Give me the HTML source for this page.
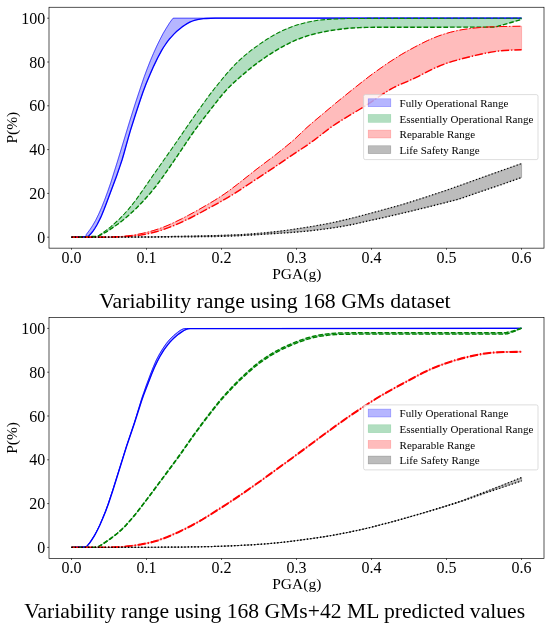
<!DOCTYPE html>
<html><head><meta charset="utf-8"><title>Variability range</title>
<style>
html,body{margin:0;padding:0;background:#fff;width:550px;height:630px;overflow:hidden}
svg{display:block}
text{font-family:'Liberation Serif', 'Times New Roman', serif;fill:#000}
.tk{font-size:16px}
.lb{font-size:15.5px}
.lg{font-size:11px;fill:#000}
.cap{font-size:21.4px}
</style></head><body>
<svg width="550" height="630" viewBox="0 0 550 630">
<rect width="550" height="630" fill="#fff"/>
<path d="M71.5 237.2L85.5 237.2L85.9 236.5L86.3 234.5L89.9 229.7L92.6 225.6L95.6 220.4L98.7 214.1L101.5 207.7L104.5 200.2L107.6 191.8L110.9 182.3L117.2 162.3L129.7 121.2L135.4 103.1L141.4 85.0L144.3 76.5L147.1 69.0L150.4 60.6L153.5 53.3L156.8 46.0L159.9 39.7L163.1 33.5L166.2 28.3L169.9 22.4L172.9 18.4L173.8 18.2L521.6 18.2L215.3 18.2L206.3 18.5L203.3 18.7L200.3 19.1L197.4 19.6L194.4 20.4L192.6 21.0L189.8 22.2L187.1 23.6L184.6 25.2L182.1 26.9L179.0 29.4L176.8 31.3L173.9 34.1L171.2 37.1L169.2 39.3L167.4 41.7L165.1 45.0L163.4 47.5L161.4 50.9L157.6 58.0L153.7 66.1L150.1 74.3L146.2 83.6L143.0 92.0L140.1 100.5L135.4 114.7L130.3 130.9L127.8 139.6L123.8 154.0L122.1 159.8L119.9 166.4L116.6 175.9L106.5 203.1L104.0 209.6L102.1 214.2L100.5 217.9L98.7 221.5L96.9 225.0L94.8 228.5L93.2 230.9L91.9 232.5L90.6 234.0L89.2 235.5L88.4 236.1L87.5 236.3L71.5 237.2Z" fill="rgba(0,0,255,0.287)" stroke="rgba(0,0,255,0.35)" stroke-width="0.84"/>
<path d="M71.5 237.2L92.5 237.2L94.5 237.1L96.5 236.7L98.3 235.9L100.0 234.8L104.0 231.9L107.3 229.5L110.4 227.1L113.4 224.5L119.3 219.1L124.2 214.0L128.2 209.6L132.0 205.0L136.3 199.4L140.9 192.9L156.3 170.7L173.0 147.0L190.6 121.5L203.3 103.5L209.2 95.4L214.7 88.3L221.0 80.5L226.7 73.6L232.8 66.9L238.4 61.2L244.3 55.9L247.4 53.3L251.3 50.2L258.6 44.9L266.9 39.3L274.6 34.7L278.2 32.8L281.7 31.0L287.2 28.6L292.8 26.4L298.5 24.5L305.3 22.7L311.1 21.5L318.0 20.3L325.0 19.6L332.0 19.1L345.0 18.6L365.0 18.4L521.7 18.3L521.5 19.5L498.1 26.2L495.2 26.9L493.2 27.1L373.2 27.3L364.2 27.4L357.2 27.7L350.2 28.2L344.3 28.7L336.3 29.7L328.4 31.0L320.6 32.5L313.8 34.1L307.0 36.0L301.3 37.9L295.8 40.1L290.3 42.6L283.2 46.3L274.6 51.3L266.2 56.7L258.8 61.9L254.8 64.9L250.1 68.6L240.1 77.0L232.7 83.6L227.0 89.3L223.0 93.8L218.6 99.2L202.6 119.7L197.8 126.1L191.4 135.0L177.4 155.8L166.7 171.4L160.9 179.6L156.1 186.0L149.8 193.7L143.1 201.2L139.7 204.8L136.1 208.4L129.6 214.5L125.8 217.8L121.9 221.0L118.0 224.0L113.9 226.9L109.8 229.7L106.4 231.8L102.9 233.8L98.4 236.1L97.5 236.4L96.5 236.4L71.5 237.2Z" fill="rgba(43,165,83,0.37)" stroke="rgba(43,165,83,0.3)" stroke-width="0.84"/>
<path d="M71.5 237.2L99.5 237.2L111.5 237.0L117.5 236.7L122.5 236.4L127.5 235.9L132.4 235.3L137.3 234.4L143.2 233.2L149.1 231.8L153.9 230.4L158.6 228.9L163.3 227.2L168.9 224.9L174.3 222.4L181.5 218.9L188.6 215.2L197.4 210.4L207.8 204.4L214.7 200.3L219.7 197.1L224.7 193.8L229.6 190.3L237.6 184.2L258.0 168.1L274.7 155.5L286.4 146.1L291.0 142.3L294.8 139.0L305.7 128.6L311.7 123.3L335.4 103.4L353.3 88.9L361.9 82.1L368.2 77.2L373.8 73.0L386.1 64.3L391.1 61.0L396.1 57.8L401.2 54.6L406.4 51.6L414.3 47.3L421.4 43.6L427.7 40.5L433.2 38.1L438.8 35.9L444.4 34.0L450.2 32.3L456.0 30.9L461.9 29.7L468.8 28.7L475.8 27.9L482.8 27.3L489.8 26.9L497.7 26.6L521.6 26.2L521.6 49.8L511.0 50.1L504.0 50.5L497.0 51.2L491.1 52.1L484.2 53.4L475.4 55.4L462.8 58.5L453.2 61.2L448.4 62.7L444.6 64.0L440.9 65.4L437.2 67.0L430.9 69.9L418.4 76.3L413.0 78.9L408.4 81.0L398.3 85.3L393.8 87.5L390.3 89.4L386.0 92.0L371.1 102.1L365.3 105.9L360.2 109.0L344.7 118.3L336.3 123.6L332.1 126.4L328.1 129.4L313.8 140.4L306.5 145.6L289.0 157.2L269.2 170.7L251.6 182.2L234.9 193.2L225.5 198.9L213.3 205.8L195.7 215.3L189.4 218.4L184.0 221.1L177.7 223.9L172.1 226.3L166.5 228.4L160.9 230.4L155.1 232.1L150.2 233.3L145.3 234.3L140.4 235.1L135.5 235.7L129.5 236.3L123.5 236.7L116.5 237.0L102.5 237.2L71.5 237.2Z" fill="rgba(255,0,0,0.263)" stroke="rgba(255,0,0,0.25)" stroke-width="0.84"/>
<path d="M71.5 237.2L150.5 236.9L188.5 236.1L216.5 235.5L235.5 234.8L243.5 234.4L251.4 233.9L263.4 232.9L271.4 232.1L280.3 231.1L290.2 229.8L310.0 226.8L320.8 224.9L328.7 223.4L337.5 221.6L347.2 219.3L356.9 216.9L378.2 211.2L392.7 207.2L402.3 204.5L423.3 197.9L444.2 191.0L457.4 186.4L479.0 178.6L521.6 163.5L521.6 177.5L501.4 184.6L478.7 192.3L463.6 197.6L457.9 199.4L452.1 200.9L421.0 208.7L396.7 214.5L356.7 223.6L348.9 225.2L340.0 226.7L329.2 228.4L318.3 229.8L308.3 231.0L297.4 232.0L283.4 233.1L260.4 234.5L244.5 235.4L229.5 236.1L213.5 236.5L171.5 237.0L71.5 237.2Z" fill="rgba(0,0,0,0.263)" stroke="rgba(0,0,0,0.25)" stroke-width="0.84"/>
<path d="M71.5 237.2L85.5 237.2L85.9 236.5L86.3 234.5L89.9 229.7L92.6 225.6L95.6 220.4L98.7 214.1L101.5 207.7L104.5 200.2L107.6 191.8L110.9 182.3L117.2 162.3L129.7 121.2L135.4 103.1L141.4 85.0L144.3 76.5L147.1 69.0L150.4 60.6L153.5 53.3L156.8 46.0L159.9 39.7L163.1 33.5L166.2 28.3L169.9 22.4L172.9 18.4L173.8 18.2L521.5 18.2" fill="none" stroke="rgba(0,0,255,0.55)" stroke-width="0.90" stroke-linejoin="round"/>
<path d="M71.5 237.2L87.5 236.3L88.4 236.1L89.2 235.5L90.6 234.0L91.9 232.5L93.2 230.9L94.8 228.5L96.9 225.0L98.7 221.5L100.5 217.9L102.1 214.2L104.0 209.6L106.5 203.1L116.6 175.9L119.9 166.4L122.1 159.8L123.8 154.0L127.8 139.6L130.3 130.9L135.4 114.7L140.1 100.5L143.0 92.0L146.2 83.6L150.1 74.3L153.7 66.1L157.6 58.0L161.4 50.9L163.4 47.5L165.1 45.0L167.4 41.7L169.2 39.3L171.2 37.1L173.9 34.1L176.8 31.3L179.0 29.4L182.1 26.9L184.6 25.2L187.1 23.6L189.8 22.2L192.6 21.0L194.4 20.4L197.4 19.6L200.3 19.1L203.3 18.7L206.3 18.5L215.3 18.2L521.6 18.2" fill="none" stroke="#0000ff" stroke-width="1.30" stroke-linejoin="round"/>
<path d="M71.5 237.2L92.5 237.2L94.5 237.1L96.5 236.7L98.3 235.9L100.0 234.8L104.0 231.9L107.3 229.5L110.4 227.1L113.4 224.5L119.3 219.1L124.2 214.0L128.2 209.6L132.0 205.0L136.3 199.4L140.9 192.9L156.3 170.7L173.0 147.0L190.6 121.5L203.3 103.5L209.2 95.4L214.7 88.3L221.0 80.5L226.7 73.6L232.8 66.9L238.4 61.2L244.3 55.9L247.4 53.3L251.3 50.2L258.6 44.9L266.9 39.3L274.6 34.7L278.2 32.8L281.7 31.0L287.2 28.6L292.8 26.4L298.5 24.5L305.3 22.7L311.1 21.5L318.0 20.3L325.0 19.6L332.0 19.1L345.0 18.6L365.0 18.4L521.7 18.3" fill="none" stroke="#008000" stroke-width="1.05" stroke-dasharray="4.64 2.0" stroke-linejoin="round"/>
<path d="M71.5 237.2L96.5 236.4L97.5 236.4L98.4 236.1L102.9 233.8L106.4 231.8L109.8 229.7L113.9 226.9L118.0 224.0L121.9 221.0L125.8 217.8L129.6 214.5L136.1 208.4L139.7 204.8L143.1 201.2L149.8 193.7L156.1 186.0L160.9 179.6L166.7 171.4L177.4 155.8L191.4 135.0L197.8 126.1L202.6 119.7L218.6 99.2L223.0 93.8L227.0 89.3L232.7 83.6L240.1 77.0L250.1 68.6L254.8 64.9L258.8 61.9L266.2 56.7L274.6 51.3L283.2 46.3L290.3 42.6L296.7 39.7L302.3 37.6L308.0 35.7L314.7 33.8L322.5 32.1L330.4 30.6L338.3 29.5L346.3 28.5L352.2 28.0L359.2 27.6L366.2 27.4L374.2 27.3L493.2 27.1L495.2 26.9L498.1 26.2L521.5 19.5" fill="none" stroke="#008000" stroke-width="1.40" stroke-dasharray="4.64 2.0" stroke-linejoin="round"/>
<path d="M71.5 237.2L99.5 237.2L111.5 237.0L117.5 236.7L122.5 236.4L127.5 235.9L132.4 235.3L137.3 234.4L143.2 233.2L149.1 231.8L153.9 230.4L158.6 228.9L163.3 227.2L168.9 224.9L174.3 222.4L181.5 218.9L188.6 215.2L197.4 210.4L207.8 204.4L214.7 200.3L219.7 197.1L224.7 193.8L229.6 190.3L237.6 184.2L258.0 168.1L274.7 155.5L286.4 146.1L291.0 142.3L294.8 139.0L305.7 128.6L311.7 123.3L335.4 103.4L353.3 88.9L361.9 82.1L368.2 77.2L373.8 73.0L386.1 64.3L391.1 61.0L396.1 57.8L401.2 54.6L406.4 51.6L414.3 47.3L421.4 43.6L427.7 40.5L433.2 38.1L438.8 35.9L444.4 34.0L450.2 32.3L456.0 30.9L461.9 29.7L468.8 28.7L475.8 27.9L482.8 27.3L489.8 26.9L497.7 26.6L521.6 26.2" fill="none" stroke="#ff0000" stroke-width="1.00" stroke-dasharray="8.03 2.0 1.25 2.0" stroke-linejoin="round"/>
<path d="M71.5 237.2L101.5 237.2L113.5 237.0L125.5 236.5L135.5 235.7L140.4 235.1L145.3 234.3L150.2 233.3L154.1 232.3L158.9 231.0L163.7 229.4L168.4 227.7L174.0 225.5L179.5 223.1L184.9 220.6L190.3 218.0L196.6 214.8L210.6 207.2L220.3 201.9L228.1 197.4L234.1 193.8L269.2 170.7L289.0 157.2L306.5 145.6L313.8 140.4L328.1 129.4L332.1 126.4L336.3 123.6L344.7 118.3L360.2 109.0L366.1 105.4L371.1 102.1L382.7 94.2L386.9 91.5L391.2 88.9L394.7 87.0L398.3 85.3L408.4 81.0L413.0 78.9L418.4 76.3L430.9 69.9L437.2 67.0L440.9 65.4L444.6 64.0L448.4 62.7L453.2 61.2L462.8 58.5L475.4 55.4L484.2 53.4L491.1 52.1L497.0 51.2L504.0 50.5L511.0 50.1L521.6 49.8" fill="none" stroke="#ff0000" stroke-width="1.40" stroke-dasharray="8.03 2.0 1.25 2.0" stroke-linejoin="round"/>
<path d="M71.5 237.2L150.5 236.9L188.5 236.1L216.5 235.5L235.5 234.8L243.5 234.4L251.4 233.9L263.4 232.9L271.4 232.1L280.3 231.1L290.2 229.8L310.0 226.8L320.8 224.9L328.7 223.4L337.5 221.6L347.2 219.3L356.9 216.9L378.2 211.2L392.7 207.2L402.3 204.5L423.3 197.9L444.2 191.0L457.4 186.4L479.0 178.6L521.6 163.5" fill="none" stroke="#000" stroke-width="1.15" stroke-dasharray="1.25 2.07" stroke-linejoin="round"/>
<path d="M71.5 237.2L169.5 237.0L210.5 236.6L223.5 236.3L237.5 235.8L248.5 235.2L286.4 232.8L297.4 232.0L307.3 231.1L315.3 230.2L324.2 229.1L334.1 227.7L344.0 226.1L351.8 224.6L359.7 222.9L396.7 214.5L409.4 211.5L424.9 207.8L452.1 200.9L458.8 199.1L464.5 197.2L478.7 192.3L500.5 184.9L521.6 177.5" fill="none" stroke="#000" stroke-width="1.30" stroke-dasharray="1.25 2.07" stroke-linejoin="round"/>
<line x1="71.50" y1="248.15" x2="71.50" y2="249.75" stroke="#000" stroke-width="0.67"/>
<text x="71.50" y="263.15" text-anchor="middle" class="tk">0.0</text>
<line x1="146.50" y1="248.15" x2="146.50" y2="249.75" stroke="#000" stroke-width="0.67"/>
<text x="146.50" y="263.15" text-anchor="middle" class="tk">0.1</text>
<line x1="221.50" y1="248.15" x2="221.50" y2="249.75" stroke="#000" stroke-width="0.67"/>
<text x="221.50" y="263.15" text-anchor="middle" class="tk">0.2</text>
<line x1="296.50" y1="248.15" x2="296.50" y2="249.75" stroke="#000" stroke-width="0.67"/>
<text x="296.50" y="263.15" text-anchor="middle" class="tk">0.3</text>
<line x1="371.50" y1="248.15" x2="371.50" y2="249.75" stroke="#000" stroke-width="0.67"/>
<text x="371.50" y="263.15" text-anchor="middle" class="tk">0.4</text>
<line x1="446.50" y1="248.15" x2="446.50" y2="249.75" stroke="#000" stroke-width="0.67"/>
<text x="446.50" y="263.15" text-anchor="middle" class="tk">0.5</text>
<line x1="521.50" y1="248.15" x2="521.50" y2="249.75" stroke="#000" stroke-width="0.67"/>
<text x="521.50" y="263.15" text-anchor="middle" class="tk">0.6</text>
<line x1="47.20" y1="237.20" x2="49.00" y2="237.20" stroke="#000" stroke-width="0.67"/>
<text x="45.30" y="242.70" text-anchor="end" class="tk">0</text>
<line x1="47.20" y1="193.40" x2="49.00" y2="193.40" stroke="#000" stroke-width="0.67"/>
<text x="45.30" y="198.90" text-anchor="end" class="tk">20</text>
<line x1="47.20" y1="149.60" x2="49.00" y2="149.60" stroke="#000" stroke-width="0.67"/>
<text x="45.30" y="155.10" text-anchor="end" class="tk">40</text>
<line x1="47.20" y1="105.80" x2="49.00" y2="105.80" stroke="#000" stroke-width="0.67"/>
<text x="45.30" y="111.30" text-anchor="end" class="tk">60</text>
<line x1="47.20" y1="62.00" x2="49.00" y2="62.00" stroke="#000" stroke-width="0.67"/>
<text x="45.30" y="67.50" text-anchor="end" class="tk">80</text>
<line x1="47.20" y1="18.20" x2="49.00" y2="18.20" stroke="#000" stroke-width="0.67"/>
<text x="45.30" y="23.70" text-anchor="end" class="tk">100</text>
<rect x="49.00" y="7.25" width="495.00" height="240.90" fill="none" stroke="#000" stroke-width="0.67"/>
<text x="296.8" y="279.15" text-anchor="middle" class="lb">PGA(g)</text>
<text x="0" y="0" transform="translate(17.1 127.70) rotate(-90)" text-anchor="middle" class="lb">P(%)</text>
<rect x="363.60" y="94.60" width="174.40" height="65.00" rx="1.7" fill="rgba(255,255,255,0.8)" stroke="rgba(204,204,204,0.8)" stroke-width="0.84"/>
<rect x="368.2" y="98.80" width="22.6" height="7.9" fill="rgba(0,0,255,0.287)" stroke="rgba(0,0,255,0.35)" stroke-width="0.6"/>
<text x="399.6" y="106.90" class="lg">Fully Operational Range</text>
<rect x="368.2" y="114.45" width="22.6" height="7.9" fill="rgba(43,165,83,0.37)" stroke="rgba(43,165,83,0.3)" stroke-width="0.6"/>
<text x="399.6" y="122.55" class="lg">Essentially Operational Range</text>
<rect x="368.2" y="130.10" width="22.6" height="7.9" fill="rgba(255,0,0,0.263)" stroke="rgba(255,0,0,0.25)" stroke-width="0.6"/>
<text x="399.6" y="138.20" class="lg">Reparable Range</text>
<rect x="368.2" y="145.75" width="22.6" height="7.9" fill="rgba(0,0,0,0.263)" stroke="rgba(0,0,0,0.25)" stroke-width="0.6"/>
<text x="399.6" y="153.85" class="lg">Life Safety Range</text>
<path d="M71.5 547.4L84.5 546.9L85.5 546.8L86.4 546.4L87.2 545.8L88.4 544.2L90.2 541.8L91.9 539.3L94.5 535.1L97.4 529.8L100.0 524.4L102.7 517.9L105.7 510.5L108.4 503.0L113.1 488.7L126.5 445.8L134.5 422.1L141.8 398.2L143.8 392.5L146.1 385.9L151.0 372.8L153.6 366.3L156.4 359.9L159.7 353.7L162.8 348.6L166.2 343.7L168.1 341.3L170.1 339.1L173.6 335.6L177.5 332.4L179.9 330.6L181.6 329.6L183.5 328.8L184.5 328.6L186.5 328.5L188.5 328.5L521.6 328.3L521.5 328.4L192.1 328.6L190.1 328.6L188.1 328.8L187.2 329.0L185.3 329.8L183.6 330.7L181.1 332.4L178.6 334.1L176.3 336.0L174.0 338.0L171.9 340.1L169.8 342.3L167.9 344.6L164.3 349.4L162.7 351.9L160.6 355.3L157.3 361.5L154.3 367.8L151.6 374.3L146.2 388.3L143.7 394.8L141.7 400.5L134.1 424.3L126.7 446.1L113.0 490.0L108.3 504.2L105.5 511.7L102.5 519.1L99.7 525.5L96.6 531.8L94.2 536.2L91.5 540.4L89.8 542.9L87.9 545.2L87.3 546.0L86.4 546.5L85.5 546.8L84.5 546.9L71.5 547.4Z" fill="rgba(0,0,255,0.287)" stroke="rgba(0,0,255,0.35)" stroke-width="0.84"/>
<path d="M71.5 547.4L94.5 547.4L96.5 547.2L98.4 546.6L100.2 545.7L102.7 544.0L112.6 536.9L117.3 533.2L121.8 529.2L126.0 525.0L130.7 519.7L135.8 513.6L141.9 505.7L150.4 494.5L174.3 462.2L180.8 453.2L193.4 435.1L202.9 422.2L209.6 413.4L215.2 406.3L220.3 400.0L224.9 394.7L232.4 386.6L240.2 378.7L247.5 371.8L250.5 369.2L254.3 365.9L258.2 362.8L261.4 360.4L268.0 355.9L271.4 353.8L274.9 351.8L281.9 348.0L288.3 345.1L294.7 342.4L301.3 339.9L307.9 337.7L313.7 336.2L319.6 335.0L325.5 334.1L331.5 333.5L336.5 333.1L341.5 332.9L356.5 332.7L504.5 332.7L506.5 332.5L510.3 331.7L515.9 330.1L521.5 328.2L515.9 330.7L509.4 333.2L507.5 333.8L506.5 333.9L504.5 334.1L356.5 334.1L341.5 334.3L335.5 334.6L330.5 334.9L324.5 335.6L318.6 336.5L313.7 337.6L307.9 339.1L301.3 341.3L294.7 343.8L288.3 346.5L281.9 349.4L274.9 353.2L271.4 355.2L268.0 357.3L261.4 361.8L258.2 364.2L254.3 367.3L247.5 373.2L239.4 380.7L231.7 388.5L224.2 396.6L219.6 401.9L214.6 408.1L209.0 415.2L202.3 423.9L193.4 436.0L180.8 454.0L174.3 462.9L149.2 496.5L140.7 507.7L135.2 514.7L130.0 520.9L126.0 525.4L121.8 529.6L116.5 534.2L113.4 536.7L110.2 539.1L106.1 541.9L101.0 545.2L99.3 546.2L97.5 547.0L95.5 547.3L93.5 547.4L71.5 547.4Z" fill="rgba(43,165,83,0.37)" stroke="rgba(43,165,83,0.3)" stroke-width="0.84"/>
<path d="M71.5 547.4L100.5 547.4L113.5 547.2L122.5 546.6L131.5 545.6L136.4 544.9L141.4 544.0L148.2 542.6L153.1 541.4L157.9 540.0L162.6 538.3L167.3 536.6L172.8 534.2L178.3 531.8L184.6 528.7L190.8 525.6L197.0 522.2L202.2 519.2L208.1 515.6L227.6 503.2L234.2 498.8L244.2 492.1L259.7 481.2L292.1 457.7L335.5 425.6L343.7 419.8L351.9 414.1L371.1 401.4L376.1 398.2L381.3 395.1L392.6 388.7L417.2 375.4L423.5 372.2L429.8 369.2L435.3 366.8L441.8 364.3L448.4 362.0L455.1 359.9L461.8 358.0L469.6 356.1L475.5 354.8L481.4 353.7L487.3 352.8L492.3 352.3L498.3 351.8L504.3 351.6L521.7 351.4L521.7 352.2L511.3 352.3L503.3 352.4L496.3 352.8L490.3 353.3L485.3 353.9L479.4 354.8L473.5 356.0L467.7 357.3L460.9 359.1L454.1 361.0L447.5 363.1L440.9 365.4L434.4 368.0L428.9 370.4L422.6 373.4L416.3 376.6L392.6 389.5L386.5 392.9L380.4 396.4L375.3 399.5L370.2 402.8L351.9 414.9L343.7 420.6L335.5 426.4L292.1 458.5L259.7 482.0L244.2 492.9L234.2 499.6L227.6 504.0L208.1 516.4L202.2 520.0L197.0 523.0L190.8 526.4L184.6 529.5L178.3 532.6L172.8 535.0L167.3 537.4L162.6 539.1L157.9 540.8L153.1 542.2L149.2 543.2L144.3 544.2L139.4 545.0L134.4 545.7L129.5 546.2L124.5 546.6L118.5 547.0L112.5 547.2L100.5 547.4L71.5 547.4Z" fill="rgba(255,0,0,0.263)" stroke="rgba(255,0,0,0.25)" stroke-width="0.84"/>
<path d="M71.5 547.4L146.5 547.3L181.5 547.1L210.5 546.6L227.5 546.0L240.5 545.4L251.5 544.8L264.4 544.0L273.4 543.2L285.3 542.0L296.3 540.6L309.1 538.9L323.0 536.9L333.8 535.1L346.6 532.7L357.4 530.4L368.1 528.0L380.7 524.8L396.2 520.7L406.8 517.7L425.0 512.3L447.9 505.3L455.5 502.8L462.2 500.6L470.6 497.4L494.9 488.1L521.6 477.5L521.7 480.9L484.0 493.5L459.5 502.1L450.9 504.8L439.4 508.3L420.2 513.9L400.0 519.7L384.6 523.8L371.0 527.3L359.3 530.0L347.6 532.5L333.8 535.1L323.0 536.9L309.1 538.9L296.3 540.6L285.3 542.0L273.4 543.2L264.4 544.0L251.5 544.8L240.5 545.4L227.5 546.0L210.5 546.6L181.5 547.1L146.5 547.3L71.5 547.4Z" fill="rgba(0,0,0,0.263)" stroke="rgba(0,0,0,0.25)" stroke-width="0.84"/>
<path d="M71.5 547.4L84.5 546.9L85.5 546.8L86.4 546.4L87.2 545.8L88.4 544.2L90.2 541.8L91.9 539.3L94.5 535.1L97.4 529.8L100.0 524.4L102.7 517.9L105.7 510.5L108.4 503.0L113.1 488.7L126.5 445.8L134.5 422.1L141.8 398.2L143.8 392.5L146.1 385.9L151.0 372.8L153.6 366.3L156.4 359.9L159.7 353.7L162.8 348.6L166.2 343.7L168.1 341.3L170.1 339.1L173.6 335.6L177.5 332.4L179.9 330.6L181.6 329.6L183.5 328.8L184.5 328.6L186.5 328.5L188.5 328.5L521.6 328.3" fill="none" stroke="rgba(0,0,255,0.8)" stroke-width="1.00" stroke-linejoin="round"/>
<path d="M71.5 547.4L84.5 546.9L85.5 546.8L86.4 546.5L87.3 546.0L87.9 545.2L89.8 542.9L91.5 540.4L94.2 536.2L96.6 531.8L99.7 525.5L102.5 519.1L105.5 511.7L108.3 504.2L113.0 490.0L126.7 446.1L134.1 424.3L141.7 400.5L143.7 394.8L146.2 388.3L151.6 374.3L154.3 367.8L157.3 361.5L160.6 355.3L162.7 351.9L164.3 349.4L167.9 344.6L169.8 342.3L171.9 340.1L174.0 338.0L176.3 336.0L178.6 334.1L181.1 332.4L183.6 330.7L185.3 329.8L187.2 329.0L188.1 328.8L190.1 328.6L192.1 328.6L521.5 328.4" fill="none" stroke="#0000ff" stroke-width="1.30" stroke-linejoin="round"/>
<path d="M71.5 547.4L94.5 547.4L96.5 547.2L98.4 546.6L100.2 545.7L102.7 544.0L112.6 536.9L117.3 533.2L121.8 529.2L126.0 525.0L130.7 519.7L135.8 513.6L141.9 505.7L150.4 494.5L174.3 462.2L180.8 453.2L193.4 435.1L202.9 422.2L209.6 413.4L215.2 406.3L220.3 400.0L224.9 394.7L232.4 386.6L240.2 378.7L247.5 371.8L250.5 369.2L254.3 365.9L258.2 362.8L261.4 360.4L268.0 355.9L271.4 353.8L274.9 351.8L281.9 348.0L288.3 345.1L294.7 342.4L301.3 339.9L307.9 337.7L313.7 336.2L319.6 335.0L325.5 334.1L331.5 333.5L336.5 333.1L341.5 332.9L356.5 332.7L504.5 332.7L506.5 332.5L510.3 331.7L515.9 330.1L521.5 328.2" fill="none" stroke="#008000" stroke-width="1.40" stroke-dasharray="4.64 2.0" stroke-linejoin="round"/>
<path d="M71.5 547.4L93.5 547.4L95.5 547.3L97.5 547.0L99.3 546.2L101.0 545.2L106.1 541.9L110.2 539.1L113.4 536.7L116.5 534.2L121.8 529.6L126.0 525.4L130.0 520.9L135.2 514.7L140.7 507.7L149.2 496.5L174.3 462.9L180.8 454.0L193.4 436.0L202.3 423.9L209.0 415.2L214.6 408.1L219.6 401.9L224.2 396.6L231.7 388.5L239.4 380.7L247.5 373.2L254.3 367.3L258.2 364.2L261.4 361.8L268.0 357.3L271.4 355.2L274.9 353.2L281.9 349.4L288.3 346.5L294.7 343.8L301.3 341.3L307.9 339.1L313.7 337.6L318.6 336.5L324.5 335.6L330.5 334.9L335.5 334.6L341.5 334.3L356.5 334.1L504.5 334.1L506.5 333.9L507.5 333.8L509.4 333.2L515.9 330.7L521.5 328.2" fill="none" stroke="#008000" stroke-width="1.40" stroke-dasharray="4.64 2.0" stroke-linejoin="round"/>
<path d="M71.5 547.4L100.5 547.4L113.5 547.2L122.5 546.6L131.5 545.6L136.4 544.9L141.4 544.0L148.2 542.6L153.1 541.4L157.9 540.0L162.6 538.3L167.3 536.6L172.8 534.2L178.3 531.8L184.6 528.7L190.8 525.6L197.0 522.2L202.2 519.2L208.1 515.6L227.6 503.2L234.2 498.8L244.2 492.1L259.7 481.2L292.1 457.7L335.5 425.6L343.7 419.8L351.9 414.1L371.1 401.4L376.1 398.2L381.3 395.1L392.6 388.7L417.2 375.4L423.5 372.2L429.8 369.2L435.3 366.8L441.8 364.3L448.4 362.0L455.1 359.9L461.8 358.0L469.6 356.1L475.5 354.8L481.4 353.7L487.3 352.8L492.3 352.3L498.3 351.8L504.3 351.6L521.7 351.4" fill="none" stroke="#ff0000" stroke-width="1.30" stroke-dasharray="8.03 2.0 1.25 2.0" stroke-linejoin="round"/>
<path d="M71.5 547.4L100.5 547.4L112.5 547.2L118.5 547.0L124.5 546.6L129.5 546.2L134.4 545.7L139.4 545.0L144.3 544.2L149.2 543.2L153.1 542.2L157.9 540.8L162.6 539.1L167.3 537.4L172.8 535.0L178.3 532.6L184.6 529.5L190.8 526.4L197.0 523.0L202.2 520.0L208.1 516.4L227.6 504.0L234.2 499.6L244.2 492.9L259.7 482.0L292.1 458.5L335.5 426.4L343.7 420.6L351.9 414.9L371.1 402.2L376.1 399.0L381.3 395.9L392.6 389.5L417.2 376.2L423.5 373.0L429.8 370.0L435.3 367.6L441.8 365.1L448.4 362.8L455.1 360.7L461.8 358.8L469.6 356.9L475.5 355.6L481.4 354.5L487.3 353.6L492.3 353.1L498.3 352.6L504.3 352.4L521.7 352.2" fill="none" stroke="#ff0000" stroke-width="1.30" stroke-dasharray="8.03 2.0 1.25 2.0" stroke-linejoin="round"/>
<path d="M71.5 547.4L146.5 547.3L181.5 547.1L210.5 546.6L227.5 546.0L240.5 545.4L251.5 544.8L264.4 544.0L273.4 543.2L285.3 542.0L296.3 540.6L309.1 538.9L323.0 536.9L333.8 535.1L346.6 532.7L357.4 530.4L368.1 528.0L380.7 524.8L396.2 520.7L406.8 517.7L425.0 512.3L447.9 505.3L455.5 502.8L462.2 500.6L470.6 497.4L494.9 488.1L521.6 477.5" fill="none" stroke="#000" stroke-width="1.20" stroke-dasharray="1.25 2.07" stroke-linejoin="round"/>
<path d="M71.5 547.4L146.5 547.3L178.5 547.1L200.5 546.8L223.5 546.2L247.5 545.1L261.4 544.2L270.4 543.5L280.4 542.5L291.3 541.3L304.2 539.6L316.1 537.9L325.9 536.4L334.8 534.9L345.6 532.9L355.4 530.9L365.2 528.7L375.9 526.0L387.5 523.0L400.0 519.7L434.6 509.7L454.7 503.6L463.3 500.8L485.0 493.2L521.7 480.9" fill="none" stroke="#000" stroke-width="1.20" stroke-dasharray="1.25 2.07" stroke-linejoin="round"/>
<line x1="71.50" y1="558.35" x2="71.50" y2="559.95" stroke="#000" stroke-width="0.67"/>
<text x="71.50" y="573.35" text-anchor="middle" class="tk">0.0</text>
<line x1="146.50" y1="558.35" x2="146.50" y2="559.95" stroke="#000" stroke-width="0.67"/>
<text x="146.50" y="573.35" text-anchor="middle" class="tk">0.1</text>
<line x1="221.50" y1="558.35" x2="221.50" y2="559.95" stroke="#000" stroke-width="0.67"/>
<text x="221.50" y="573.35" text-anchor="middle" class="tk">0.2</text>
<line x1="296.50" y1="558.35" x2="296.50" y2="559.95" stroke="#000" stroke-width="0.67"/>
<text x="296.50" y="573.35" text-anchor="middle" class="tk">0.3</text>
<line x1="371.50" y1="558.35" x2="371.50" y2="559.95" stroke="#000" stroke-width="0.67"/>
<text x="371.50" y="573.35" text-anchor="middle" class="tk">0.4</text>
<line x1="446.50" y1="558.35" x2="446.50" y2="559.95" stroke="#000" stroke-width="0.67"/>
<text x="446.50" y="573.35" text-anchor="middle" class="tk">0.5</text>
<line x1="521.50" y1="558.35" x2="521.50" y2="559.95" stroke="#000" stroke-width="0.67"/>
<text x="521.50" y="573.35" text-anchor="middle" class="tk">0.6</text>
<line x1="47.20" y1="547.40" x2="49.00" y2="547.40" stroke="#000" stroke-width="0.67"/>
<text x="45.30" y="552.90" text-anchor="end" class="tk">0</text>
<line x1="47.20" y1="503.60" x2="49.00" y2="503.60" stroke="#000" stroke-width="0.67"/>
<text x="45.30" y="509.10" text-anchor="end" class="tk">20</text>
<line x1="47.20" y1="459.80" x2="49.00" y2="459.80" stroke="#000" stroke-width="0.67"/>
<text x="45.30" y="465.30" text-anchor="end" class="tk">40</text>
<line x1="47.20" y1="416.00" x2="49.00" y2="416.00" stroke="#000" stroke-width="0.67"/>
<text x="45.30" y="421.50" text-anchor="end" class="tk">60</text>
<line x1="47.20" y1="372.20" x2="49.00" y2="372.20" stroke="#000" stroke-width="0.67"/>
<text x="45.30" y="377.70" text-anchor="end" class="tk">80</text>
<line x1="47.20" y1="328.40" x2="49.00" y2="328.40" stroke="#000" stroke-width="0.67"/>
<text x="45.30" y="333.90" text-anchor="end" class="tk">100</text>
<rect x="49.00" y="317.45" width="495.00" height="240.90" fill="none" stroke="#000" stroke-width="0.67"/>
<text x="296.8" y="589.35" text-anchor="middle" class="lb">PGA(g)</text>
<text x="0" y="0" transform="translate(17.1 437.90) rotate(-90)" text-anchor="middle" class="lb">P(%)</text>
<rect x="363.60" y="404.90" width="174.40" height="65.00" rx="1.7" fill="rgba(255,255,255,0.8)" stroke="rgba(204,204,204,0.8)" stroke-width="0.84"/>
<rect x="368.2" y="409.10" width="22.6" height="7.9" fill="rgba(0,0,255,0.287)" stroke="rgba(0,0,255,0.35)" stroke-width="0.6"/>
<text x="399.6" y="417.20" class="lg">Fully Operational Range</text>
<rect x="368.2" y="424.75" width="22.6" height="7.9" fill="rgba(43,165,83,0.37)" stroke="rgba(43,165,83,0.3)" stroke-width="0.6"/>
<text x="399.6" y="432.85" class="lg">Essentially Operational Range</text>
<rect x="368.2" y="440.40" width="22.6" height="7.9" fill="rgba(255,0,0,0.263)" stroke="rgba(255,0,0,0.25)" stroke-width="0.6"/>
<text x="399.6" y="448.50" class="lg">Reparable Range</text>
<rect x="368.2" y="456.05" width="22.6" height="7.9" fill="rgba(0,0,0,0.263)" stroke="rgba(0,0,0,0.25)" stroke-width="0.6"/>
<text x="399.6" y="464.15" class="lg">Life Safety Range</text>
<text x="274.9" y="307.6" text-anchor="middle" class="cap" textLength="351.5" lengthAdjust="spacingAndGlyphs">Variability range using 168 GMs dataset</text>
<text x="274.7" y="617.8" text-anchor="middle" class="cap" textLength="500.8" lengthAdjust="spacingAndGlyphs">Variability range using 168 GMs+42 ML predicted values</text>
</svg>
</body></html>
